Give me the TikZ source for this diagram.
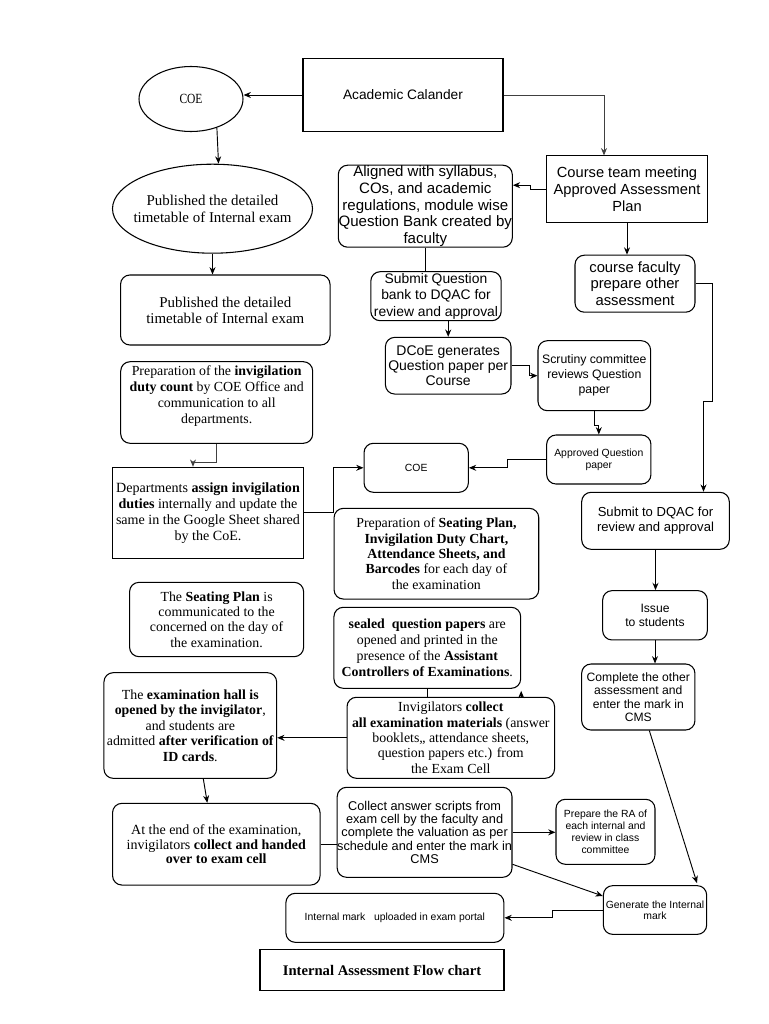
\documentclass[tikz,border=0pt]{standalone}
\usepackage{fontspec}
\setmainfont{Liberation Serif}
\setsansfont{Liberation Sans}
\usetikzlibrary{shapes.geometric,arrows.meta,calc}
\begin{document}
\begin{tikzpicture}[x=0.75pt,y=-0.75pt,
  >={Stealth[length=5.5pt,width=4.5pt]},
  box/.style={draw,line width=0.8pt,inner sep=0pt,align=center},
  rbox/.style={box,rounded corners=7pt},
  ebox/.style={box,ellipse},
  sz/.style 2 args={minimum width=#1*0.75pt,minimum height=#2*0.75pt},
  fsa/.style 2 args={font=\sffamily\fontsize{#1}{#2}\selectfont},
  fse/.style 2 args={font=\rmfamily\fontsize{#1}{#2}\selectfont},
  link/.style={line width=0.7pt},
]
\fill[white] (0,0) rectangle (768,1024);
\useasboundingbox (0,0) rectangle (768,1024);

% ---------- nodes ----------
\node[box,sz={200}{73},fsa={10.3}{12}] (acal) at (403,95) {Academic Calander};
\node[ebox,sz={104}{65},fse={10.5}{12}] (coe1) at (191,99) {\scalebox{0.82}[1]{COE}};
\node[box,sz={161}{66.7},fsa={11}{12.5}] (ctm) at (627,189.3) {Course team meeting\\Approved Assessment\\Plan};
\node[ebox,sz={200}{89}] (pub1) at (212.5,208.7) {};
\node[fse={11.2}{12.5},align=center,inner sep=0pt] (pub1t) at (pub1) {Published the detailed\\timetable of Internal exam};
\node[rbox,sz={209.5}{70},fse={11.2}{12}] (pub2) at (225.3,310) {Published the detailed\\timetable of Internal exam};
\node[rbox,sz={174}{82},fsa={11.3}{12.5}] (align) at (425.3,206.2) {Aligned with syllabus,\\COs, and academic\\regulations, module wise\\Question Bank created by\\faculty};
\node[rbox,sz={130.4}{49},fsa={10.4}{12.2}] (sqb) at (436,296.2) {Submit Question\\bank to DQAC for\\review and approval};
\node[rbox,sz={125.6}{56.7},fsa={10.5}{11.25}] (dcoe) at (448.2,365.7) {DCoE generates\\Question paper per\\Course};
\node[rbox,sz={112.6}{70},fsa={9.2}{11.25}] (scr) at (594.3,375.7) {Scrutiny committee\\reviews Question\\paper};
\node[rbox,sz={104.3}{49},fsa={7.8}{8.8}] (aqp) at (598.8,459.5) {Approved Question\\paper};
\node[rbox,sz={104.3}{49},fsa={7.8}{9}] (coe2) at (416.2,467.8) {COE};
\node[rbox,sz={120}{57},fsa={11.1}{12.7}] (cfp) at (635,283.7) {course faculty\\prepare other\\assessment};
\node[rbox,sz={147.6}{57},fsa={9.8}{11.25}] (sdq) at (655.5,520.8) {Submit to DQAC for\\review and approval};
\node[rbox,sz={104.7}{49.3},fsa={9.1}{10}] (iss) at (655,615.3) {Issue\\to students};
\node[rbox,sz={113.3}{66},fsa={9.1}{10}] (cmp) at (638.3,697) {Complete the other\\assessment and\\enter the mark in\\CMS};
\node[rbox,sz={103.3}{48.7},fsa={7.8}{8.5}] (gen) at (655,910) {Generate the Internal\\mark};
\node[rbox,sz={192}{81.6}] (pinv) at (216.7,402.5) {};
\node[fse={10.4}{11.85},align=center,inner sep=0pt] (pinvt) at (216.7,396) {Preparation of the \textbf{invigilation}\\\textbf{duty count} by COE Office and\\communication to all\\departments.};
\node[box,sz={191}{91},fse={10.55}{12}] (dept) at (208,512.8) {Departments \textbf{assign invigilation}\\\textbf{duties} internally and update the\\same in the Google Sheet shared\\by the CoE.};
\node[rbox,sz={204.7}{90.7},fse={10.4}{11.6}] (seat) at (436.4,553.7) {Preparation of \textbf{Seating Plan,}\\\textbf{Invigilation Duty Chart,}\\\textbf{Attendance Sheets, and}\\\textbf{Barcodes} for each day of\\the examination};
\node[rbox,sz={174}{74.3},fse={10.4}{11.5}] (spc) at (216.6,619.5) {The \textbf{Seating Plan} is\\communicated to the\\concerned on the day of\\the examination.};
\node[rbox,sz={186.7}{81},fse={10.4}{12}] (sealed) at (427.3,647.8) {\textbf{sealed~ question papers} are\\opened and printed in the\\presence of the \textbf{Assistant}\\\textbf{Controllers of Examinations}.};
\node[rbox,sz={207.5}{81},fse={10.4}{11.5}] (invc) at (450.8,737.8) {Invigilators \textbf{collect}\\\textbf{all examination materials} (answer\\booklets,, attendance sheets,\\question papers etc.) from\\the Exam Cell};
\node[rbox,sz={172.7}{105.7},fse={10.4}{11.55}] (hall) at (190.3,725.5) {The \textbf{examination hall is}\\\textbf{opened by the invigilator},\\and students are\\admitted \textbf{after verification of}\\\textbf{ID cards}.};
\node[rbox,sz={207.5}{81.7},fse={10.5}{11}] (end) at (216.3,844.2) {At the end of the examination,\\invigilators \textbf{collect and handed}\\\textbf{over to exam cell}};
\node[rbox,sz={172.7}{90},fsa={9.55}{9.9}] (cas) at (424.6,832.3) {Collect answer scripts from\\exam cell by the faculty and\\complete the valuation as per\\schedule and enter the mark in\\CMS};
\node[rbox,sz={99}{65},fsa={7.8}{8.85}] (pra) at (605.5,831.8) {Prepare the RA of\\each internal and\\review in class\\committee};
\node[rbox,sz={218}{49},fsa={7.8}{9}] (imu) at (394.9,917.8) {Internal mark~~~uploaded in exam portal};
\node[box,sz={244}{40.7},fse={11}{12}] (title) at (382,970.3) {\textbf{Internal Assessment Flow chart}};

% ---------- connectors ----------
\draw[link,->] (acal.west) -- (acal.west -| coe1.east);
\draw[link,->,black!75] (acal.east) -| ($(ctm.north)+(-23,0)$);
\draw[link,->] (coe1.-48) -- ($(pub1.north)+(6,0)$);
\draw[link,->] (pub1.south) -- (pub1.south |- pub2.north);
\draw[link,->] (ctm.west) -- ++(-16,0) |- ($(align.east)+(0,-21)$);
\draw[link,->] (ctm.south) -- (ctm.south |- cfp.north);
\draw[link] (align.south) -- (align.south |- sqb.north);
\draw[link,->] (sqb.south -| dcoe.north) -- (dcoe.north);
\draw[link,->] (dcoe.east) -- ++(18,0) |- (scr.west);
\draw[link,->] (scr.south) -- ++(0,14) -| (aqp.north);
\draw[link,->] (aqp.west) -- ++(-39,0) |- (coe2.east);
\draw[link,->] (cfp.east) -- ++(17,0) -- ++(0,118) -| ($(sdq.north)+(48,0)$);
\draw[link,->] (sdq.south) -- (sdq.south |- iss.north);
\draw[link,->] (iss.south) -- (iss.south |- cmp.north);
\draw[link,->] ($(cmp.south)+(11,0)$) -- ($(gen.north)+(42,-2)$);
\draw[link,->,black!75] (pinv.south) -- ++(0,18.4) -| ($(dept.north)+(-15,0)$);
\draw[link,->] (dept.east) -- ++(29.4,0) |- (coe2.west);
\draw[link] (sealed.south) -- (sealed.south |- invc.north);
\draw[link,->] (invc.north -| sealed.east) -- ($(sealed.south east)+(0,2)$);
\draw[link,->] (invc.west) -- (invc.west -| hall.east);
\draw[link,->] ($(hall.south)+(13,0)$) -- ($(end.north)+(-9,0)$);
\draw[link] (end.east) -- (end.east -| cas.west);
\draw[link,->] (cas.east) -- (cas.east -| pra.west);
\draw[link,->] ($(cas.east)+(0,32)$) -- ($(gen.west)+(0,-14)$);
\draw[link,->] (gen.west) -- ++(-50,0) |- (imu.east);
\end{tikzpicture}
\end{document}
